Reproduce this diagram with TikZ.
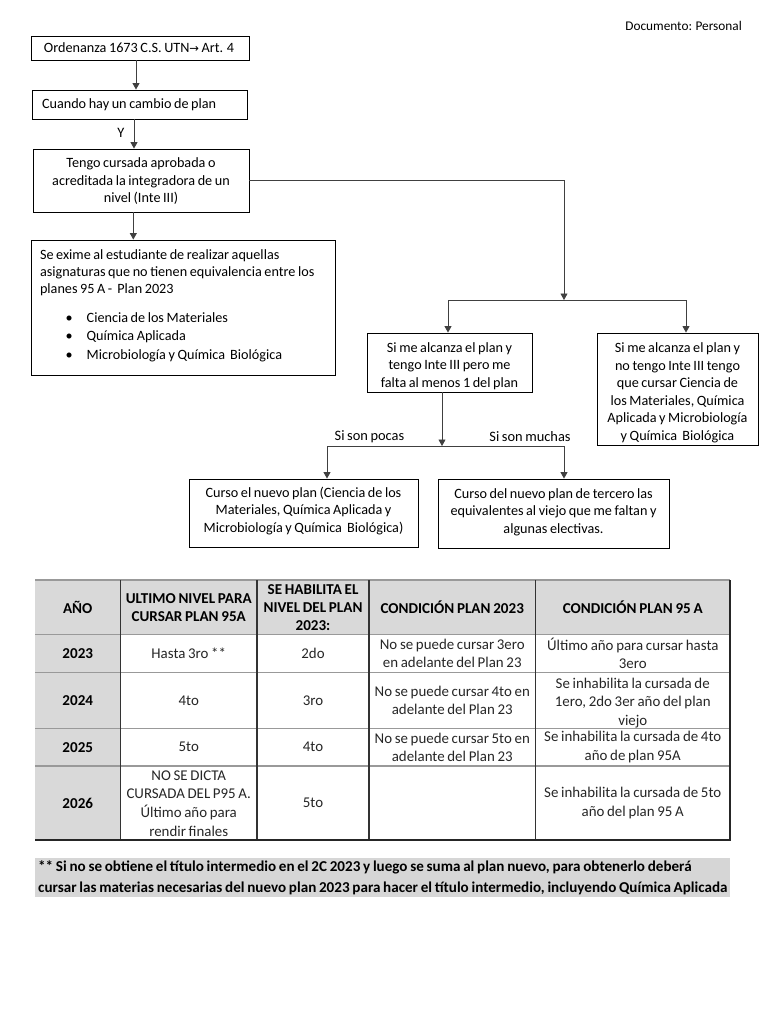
\documentclass[tikz,border=0pt]{standalone}
\usepackage{fontspec}
\setmainfont{Carlito}[WordSpace=0.8]
\newfontfamily\dejavu{DejaVu Sans}
\usetikzlibrary{arrows.meta,calc}
\definecolor{cellgray}{RGB}{217,217,217}
\definecolor{notegray}{RGB}{214,214,214}
\newcommand\vtab[2]{\raisebox{#1}[\height][\depth]{\begin{tabular}{@{}c@{}}#2\end{tabular}}}
\begin{document}
\begin{tikzpicture}[x=1pt,y=-1pt,
  box/.style={draw=black, line width=0.9pt, inner sep=0pt, align=center, font=\fontsize{14.2}{17.6}\selectfont},
  arr/.style={-{Triangle[length=6.5pt,width=7pt]}, line width=0.9pt, draw=black!75},
  link/.style={line width=0.9pt, draw=black!75},
  lbl/.style={inner sep=0pt, font=\fontsize{14.4}{16}\selectfont},
  cell/.style={inner sep=0pt, align=center, text=black!85, font=\fontsize{14.9}{18.6}\selectfont},
  hcell/.style={cell, text=black, font=\bfseries\fontsize{15.1}{18}\selectfont},
  hline/.style={draw=black!40, line width=1.6pt},
  vline/.style={draw=black!80, line width=1.3pt}]
\useasboundingbox (0,0) rectangle (768,1024);
\fill[white] (0,0) rectangle (768,1024);

\node[inner sep=0pt, anchor=east, font=\fontsize{13.3}{15}\selectfont] (doc) at (742,26) {Documento: Personal};

% flowchart boxes
\node[box, minimum width=218pt, minimum height=24pt] (b1) at (140,48) {\makebox[200pt][c]{Ordenanza 1673 C.S. UTN{\dejavu\fontsize{11.5}{11.5}\selectfont →} Art. 4\hspace{2pt}}};
\node[box, minimum width=215pt, minimum height=29pt] (b2) at (139.5,104.5) {\makebox[195pt][l]{Cuando hay un cambio de plan}};
\node[box, minimum width=216pt, minimum height=63pt] (b3) at (141,180.5) {\vtab{-1pt}{Tengo cursada aprobada o\\acreditada la integradora de un\\nivel (Inte III)}};
\node[box, minimum width=304pt, minimum height=135pt] (b4) at (183,307.5)
 {\makebox[286pt][l]{\fontsize{14.2}{17.2}\selectfont\begin{tabular}{@{}l@{}}
  Se exime al estudiante de realizar aquellas\\
  asignaturas que no tienen equivalencia entre los\\
  planes 95 A -\ \ Plan 2023\\[11.5pt]
  \makebox[46.7pt][l]{\hspace{25.5pt}\textbullet}Ciencia de los Materiales\\[1.5pt]
  \makebox[46.7pt][l]{\hspace{25.5pt}\textbullet}Química Aplicada\\[1.5pt]
  \makebox[46.7pt][l]{\hspace{25.5pt}\textbullet}Microbiología y Química\ \ Biológica\\[3pt]
  \end{tabular}}};
\node[box, minimum width=165pt, minimum height=59pt] (b5) at (449.5,362.5) {\vtab{-3.8pt}{Si me alcanza el plan y\\tengo Inte III pero me\\falta al menos 1 del plan}};
\node[box, minimum width=161pt, minimum height=112pt] (b6) at (677.5,389) {\vtab{-4pt}{Si me alcanza el plan y\\no tengo Inte III tengo\\que cursar Ciencia de\\los Materiales, Química\\Aplicada y Microbiología\\y Química\ \ Biológica}};
\node[box, minimum width=229pt, minimum height=68pt, font=\fontsize{14.2}{17.4}\selectfont] (b7) at (303.5,513) {\vtab{1.7pt}{Curso el nuevo plan (Ciencia de los\\Materiales, Química Aplicada y\\Microbiología y Química\ \ Biológica)}};
\node[box, minimum width=231pt, minimum height=69pt, font=\fontsize{14.2}{17.4}\selectfont] (b8) at (553.5,513.5) {\vtab{1.2pt}{Curso del nuevo plan de tercero las\\equivalentes al viejo que me faltan y\\algunas electivas.}};

% connectors
\draw[arr] ([xshift=-4pt]b1.south) -- ([xshift=-4pt]b1.south |- b2.north);
\draw[arr] ([xshift=-5.5pt]b2.south) -- ([xshift=-5.5pt]b2.south |- b3.north);
\node[lbl] (ly) at (121,133) {Y};
\draw[arr] ([xshift=-7.7pt]b3.south) -- ([xshift=-7.7pt]b3.south |- b4.north);
\coordinate (k1) at (564,180.5);
\coordinate (k2) at (564,300);
\draw[arr] (b3.east) -- (k1) -- (k2);
\coordinate (k3) at (448,300);
\coordinate (k4) at (686,300);
\draw[link] (k3) -- (k4);
\draw[arr] (k3) -- (k3 |- b5.north);
\draw[arr] (k4) -- (k4 |- b6.north);
\coordinate (m0) at (442,446);
\coordinate (m1) at (327,446);
\coordinate (m2) at (564,446);
\draw[arr] (m0 |- b5.south) -- (m0);
\draw[link] (m1) -- (m2);
\draw[arr] (m1) -- (m1 |- b7.north);
\draw[arr] (m2) -- (m2 |- b8.north);
\node[lbl] (lp) at (369.5,437) {Si son pocas};
\node[lbl] (lm) at (530,437) {Si son muchas};

% table
\fill[cellgray] (35,580) rectangle (730,634.5);
\fill[cellgray] (35,634.5) rectangle (120.5,840);
\foreach \yy in {580,634.5,672.5,728.5,766} \draw[hline] (35,\yy) -- (730,\yy);
\foreach \xx in {120.5,257,369,535.5} \draw[vline] (\xx,580) -- (\xx,840);
\draw[draw=black!85, line width=1.6pt] (35,840) -- (730,840) -- (730,580);

\node[hcell] (h1) at (77.75,607.25) {AÑO};
\node[hcell] (h2) at (188.75,607.25) {ULTIMO NIVEL PARA\\CURSAR PLAN 95A};
\node[hcell] (h3) at (313,607.25) {SE HABILITA EL\\NIVEL DEL PLAN\\2023:};
\node[hcell] (h4) at (452.25,607.25) {CONDICIÓN PLAN 2023};
\node[hcell] (h5) at (632.75,607.25) {CONDICIÓN PLAN 95 A};

\node[hcell] (y1) at (77.75,653.5) {2023};
\node[cell] (c12) at (188.75,653.5) {Hasta 3ro **};
\node[cell] (c13) at (313,653.5) {2do};
\node[cell] (c14) at (452.25,653.5) {No se puede cursar 3ero\\en adelante del Plan 23};
\node[cell] (c15) at (632.75,653.5) {Último año para cursar hasta\\3ero};

\node[hcell] (y2) at (77.75,700.5) {2024};
\node[cell] (c22) at (188.75,700.5) {4to};
\node[cell] (c23) at (313,700.5) {3ro};
\node[cell] (c24) at (452.25,700.5) {No se puede cursar 4to en\\adelante del Plan 23};
\node[cell] (c25) at (632.75,703) {Se inhabilita la cursada de\\1ero, 2do 3er año del plan\\viejo};

\node[hcell] (y3) at (77.75,747.25) {2025};
\node[cell] (c32) at (188.75,747.25) {5to};
\node[cell] (c33) at (313,747.25) {4to};
\node[cell] (c34) at (452.25,747.25) {No se puede cursar 5to en\\adelante del Plan 23};
\node[cell] (c35) at (632.75,747.25) {Se inhabilita la cursada de 4to\\año de plan 95A};

\node[hcell] (y4) at (77.75,803) {2026};
\node[cell] (c42) at (188.75,803.5) {NO SE DICTA\\CURSADA DEL P95 A.\\Último año para\\rendir finales};
\node[cell] (c43) at (313,803) {5to};
\node[cell] (c45) at (632.75,803) {Se inhabilita la cursada de 5to\\año del plan 95 A};

% footnote
\fill[notegray] (35,858) rectangle (730,897);
\node[inner sep=0pt, anchor=west, align=left, font=\bfseries\fontsize{15.1}{21}\selectfont] (note) at (38,877.5)
 {** Si no se obtiene el título intermedio en el 2C 2023 y luego se suma al plan nuevo, para obtenerlo deberá\\cursar las materias necesarias del nuevo plan 2023 para hacer el título intermedio, incluyendo Química Aplicada};
\end{tikzpicture}
\end{document}
